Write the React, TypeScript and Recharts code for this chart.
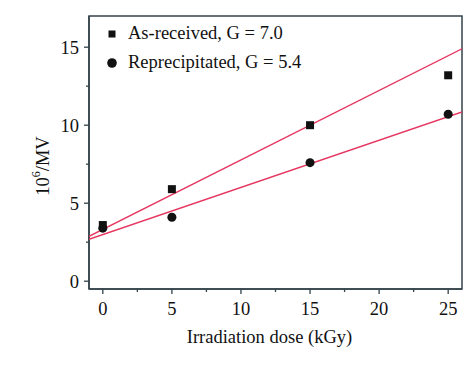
import { ComposedChart, Legend, Scatter, XAxis, YAxis, ZAxis, Label, ReferenceArea } from "recharts";

const doses = [0, 5, 15, 25];
const asReceived = [3.6, 5.9, 10.0, 13.2];
const reprecipitated = [3.4, 4.1, 7.6, 10.7];

// fitted lines, read at the left and right edge of the frame
const fitDoses = [-1, 26];
const asReceivedFit = [2.88, 14.9];
const reprecipitatedFit = [2.69, 10.85];

const xTicks = [0, 2.5, 5, 7.5, 10, 12.5, 15, 17.5, 20, 22.5, 25];
const yTicks = [0, 2.5, 5, 7.5, 10, 12.5, 15];
const xDomain = [-1, 26];
const yDomain = [-0.5, 17];

const AXIS = "#33434a";
const FIT = "#e6355f";
const FONT = "'Liberation Serif', 'Times New Roman', serif";
const FS = 18.5;

const asData = doses.map((d, i) => ({ x: d, y: asReceived[i] }));
const reData = doses.map((d, i) => ({ x: d, y: reprecipitated[i] }));
const asFitData = fitDoses.map((d, i) => ({ x: d, y: asReceivedFit[i] }));
const reFitData = fitDoses.map((d, i) => ({ x: d, y: reprecipitatedFit[i] }));

const isMajor = (v: number) => v % 5 === 0;

function XTick({ x, y, payload }: any) {
  const v = payload.value;
  const base = y - 13;
  return (
    <g>
      <line x1={x} x2={x} y1={base} y2={base + (isMajor(v) ? 5 : 3)} stroke={AXIS} strokeWidth={1.3} />
      {isMajor(v) && (
        <text x={x} y={y} dy="0.71em" textAnchor="middle" fontSize={FS} fontFamily={FONT} fill="#111">
          {v}
        </text>
      )}
    </g>
  );
}

function YTick({ x, y, payload }: any) {
  const v = payload.value;
  const base = x + 10;
  return (
    <g>
      <line x1={base} x2={base - (isMajor(v) ? 5 : 3)} y1={y} y2={y} stroke={AXIS} strokeWidth={1.3} />
      {isMajor(v) && (
        <text x={x} y={y} dy="0.355em" textAnchor="end" fontSize={FS} fontFamily={FONT} fill="#111">
          {v}
        </text>
      )}
    </g>
  );
}

function LegendBox() {
  const rows = [
    { name: "As-received, G = 7.0", icon: <rect x={4.5} y={4.5} width={7} height={7} fill="#111" /> },
    { name: "Reprecipitated, G = 5.4", icon: <circle cx={8} cy={8} r={4.8} fill="#111" /> },
  ];
  return (
    <div style={{ fontFamily: FONT, fontSize: FS, color: "#111" }}>
      {rows.map((r) => (
        <div key={r.name} style={{ display: "flex", alignItems: "center", height: 29 }}>
          <svg width={16} height={16}>{r.icon}</svg>
          <span style={{ marginLeft: 8, whiteSpace: "nowrap" }}>{r.name}</span>
        </div>
      ))}
    </div>
  );
}

export default function App() {
  return (
    <div style={{ position: "absolute", left: 0, top: 0, width: 474, height: 367, background: "#fff" }}>
      <ComposedChart width={474} height={367} margin={{ top: 16, right: 12, bottom: 0, left: 0 }}>
        <XAxis
          dataKey="x"
          type="number"
          domain={xDomain}
          allowDataOverflow
          ticks={xTicks}
          interval={0}
          height={78}
          tickLine={false}
          tickSize={5}
          tickMargin={8}
          tick={<XTick />}
          axisLine={{ stroke: AXIS, strokeWidth: 1.5 }}
        >
          <Label
            content={({ viewBox }: any) => (
              <text
                x={viewBox.x + viewBox.width / 2 - 6}
                y={viewBox.y + 48}
                textAnchor="middle"
                dominantBaseline="central"
                fontSize={FS}
                fontFamily={FONT}
                fill="#111"
              >
                Irradiation dose (kGy)
              </text>
            )}
          />
        </XAxis>
        <YAxis
          dataKey="y"
          type="number"
          domain={yDomain}
          allowDataOverflow
          ticks={yTicks}
          interval={0}
          width={89}
          tickLine={false}
          tickSize={5}
          tickMargin={5}
          tick={<YTick />}
          axisLine={{ stroke: AXIS, strokeWidth: 1.5 }}
        >
          <Label
            content={() => (
              <text
                transform="translate(43,166) rotate(-90)"
                textAnchor="middle"
                dominantBaseline="central"
                fontSize={FS}
                fontFamily={FONT}
                fill="#111"
              >
                10
                <tspan fontSize={12} dy={-7}>6</tspan>
                <tspan dy={7}>/MV</tspan>
              </text>
            )}
          />
        </YAxis>
        <ZAxis range={[100, 100]} />
        <ReferenceArea
          x1={xDomain[0]}
          x2={xDomain[1]}
          y1={yDomain[0]}
          y2={yDomain[1]}
          fill="none"
          fillOpacity={0}
          stroke={AXIS}
          strokeWidth={1.5}
          ifOverflow="visible"
        />
        <Legend
          layout="vertical"
          verticalAlign="middle"
          align="center"
          wrapperStyle={{ position: "absolute", left: 104, top: 19, width: "auto", transform: "none" }}
          content={() => <LegendBox />}
        />
        <Scatter
          data={asFitData}
          line={{ stroke: FIT, strokeWidth: 1.4 }}
          shape={() => <g />}
          legendType="none"
          isAnimationActive={false}
        />
        <Scatter
          data={reFitData}
          line={{ stroke: FIT, strokeWidth: 1.4 }}
          shape={() => <g />}
          legendType="none"
          isAnimationActive={false}
        />
        <Scatter data={asData} shape="square" fill="#111" isAnimationActive={false} />
        <Scatter data={reData} shape="circle" fill="#111" isAnimationActive={false} />
      </ComposedChart>
    </div>
  );
}
